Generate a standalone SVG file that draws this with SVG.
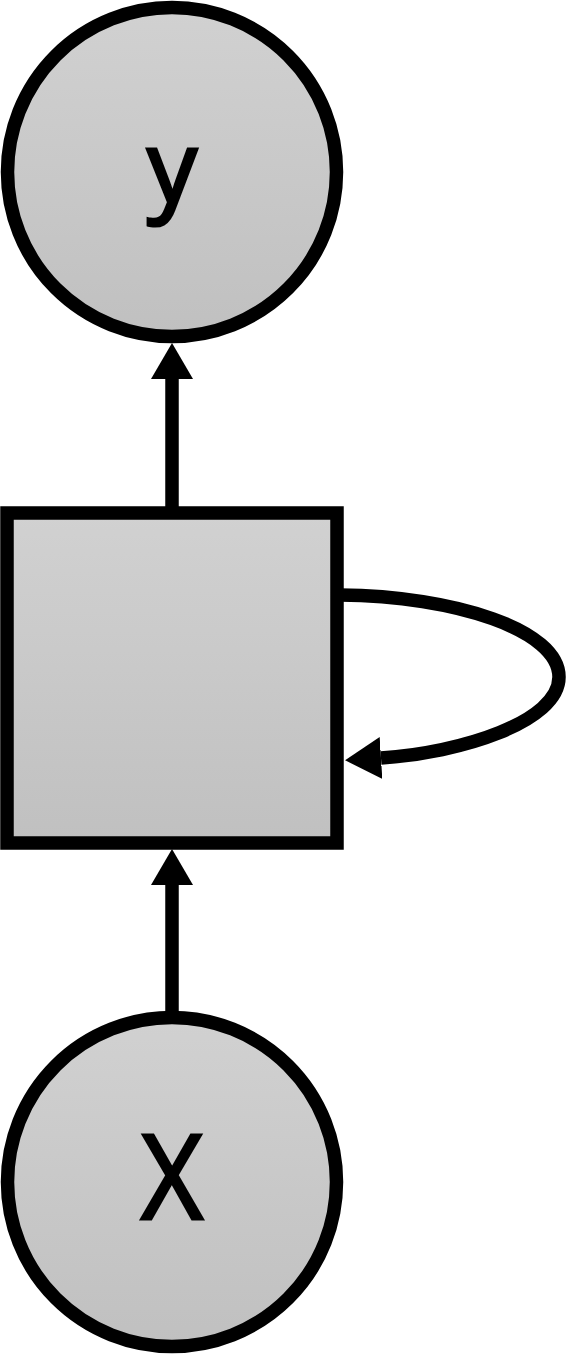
<svg xmlns="http://www.w3.org/2000/svg" width="566" height="1355" viewBox="0 0 566 1355">
<style>
.node{stroke:#000;stroke-width:13.5;fill:url(#g)}
.edge{stroke:#000;stroke-width:13.5;fill:none}
.lbl{font-family:"Open Sans","DejaVu Sans",sans-serif;font-weight:400;fill:#000;stroke:#000;stroke-width:3.2;stroke-linejoin:miter;text-anchor:middle}
</style>
<defs>
<linearGradient id="g" x1="0" y1="0" x2="0" y2="1">
<stop offset="0" stop-color="#d1d1d1"/>
<stop offset="1" stop-color="#c0c0c0"/>
</linearGradient>
<marker id="ah" viewBox="0 0 36 42" refX="0" refY="21" markerWidth="36" markerHeight="42" markerUnits="userSpaceOnUse" orient="auto">
<path d="M0,0 L36,21 L0,42 z" fill="#000"/>
</marker>
</defs>
<g id="connectors">
<line class="edge" x1="172" y1="508" x2="172" y2="379" marker-end="url(#ah)"/>
<line class="edge" x1="172" y1="1014" x2="172" y2="885" marker-end="url(#ah)"/>
<path class="edge" d="M340,595 C455,596 559,630 559,677 C559,722 460,753 381,758" marker-end="url(#ah)"/>
</g>
<g id="node-y">
<circle class="node" cx="172" cy="172" r="164.5"/>
<text class="lbl" x="172" y="202" font-size="99">y</text>
</g>
<g id="node-h">
<rect class="node" x="7" y="513" width="330" height="330"/>
</g>
<g id="node-x">
<circle class="node" cx="172" cy="1182" r="164.5"/>
<text class="lbl" transform="translate(172,1218.5) scale(0.91,1)" x="0" y="0" font-size="117">X</text>
</g>
</svg>
